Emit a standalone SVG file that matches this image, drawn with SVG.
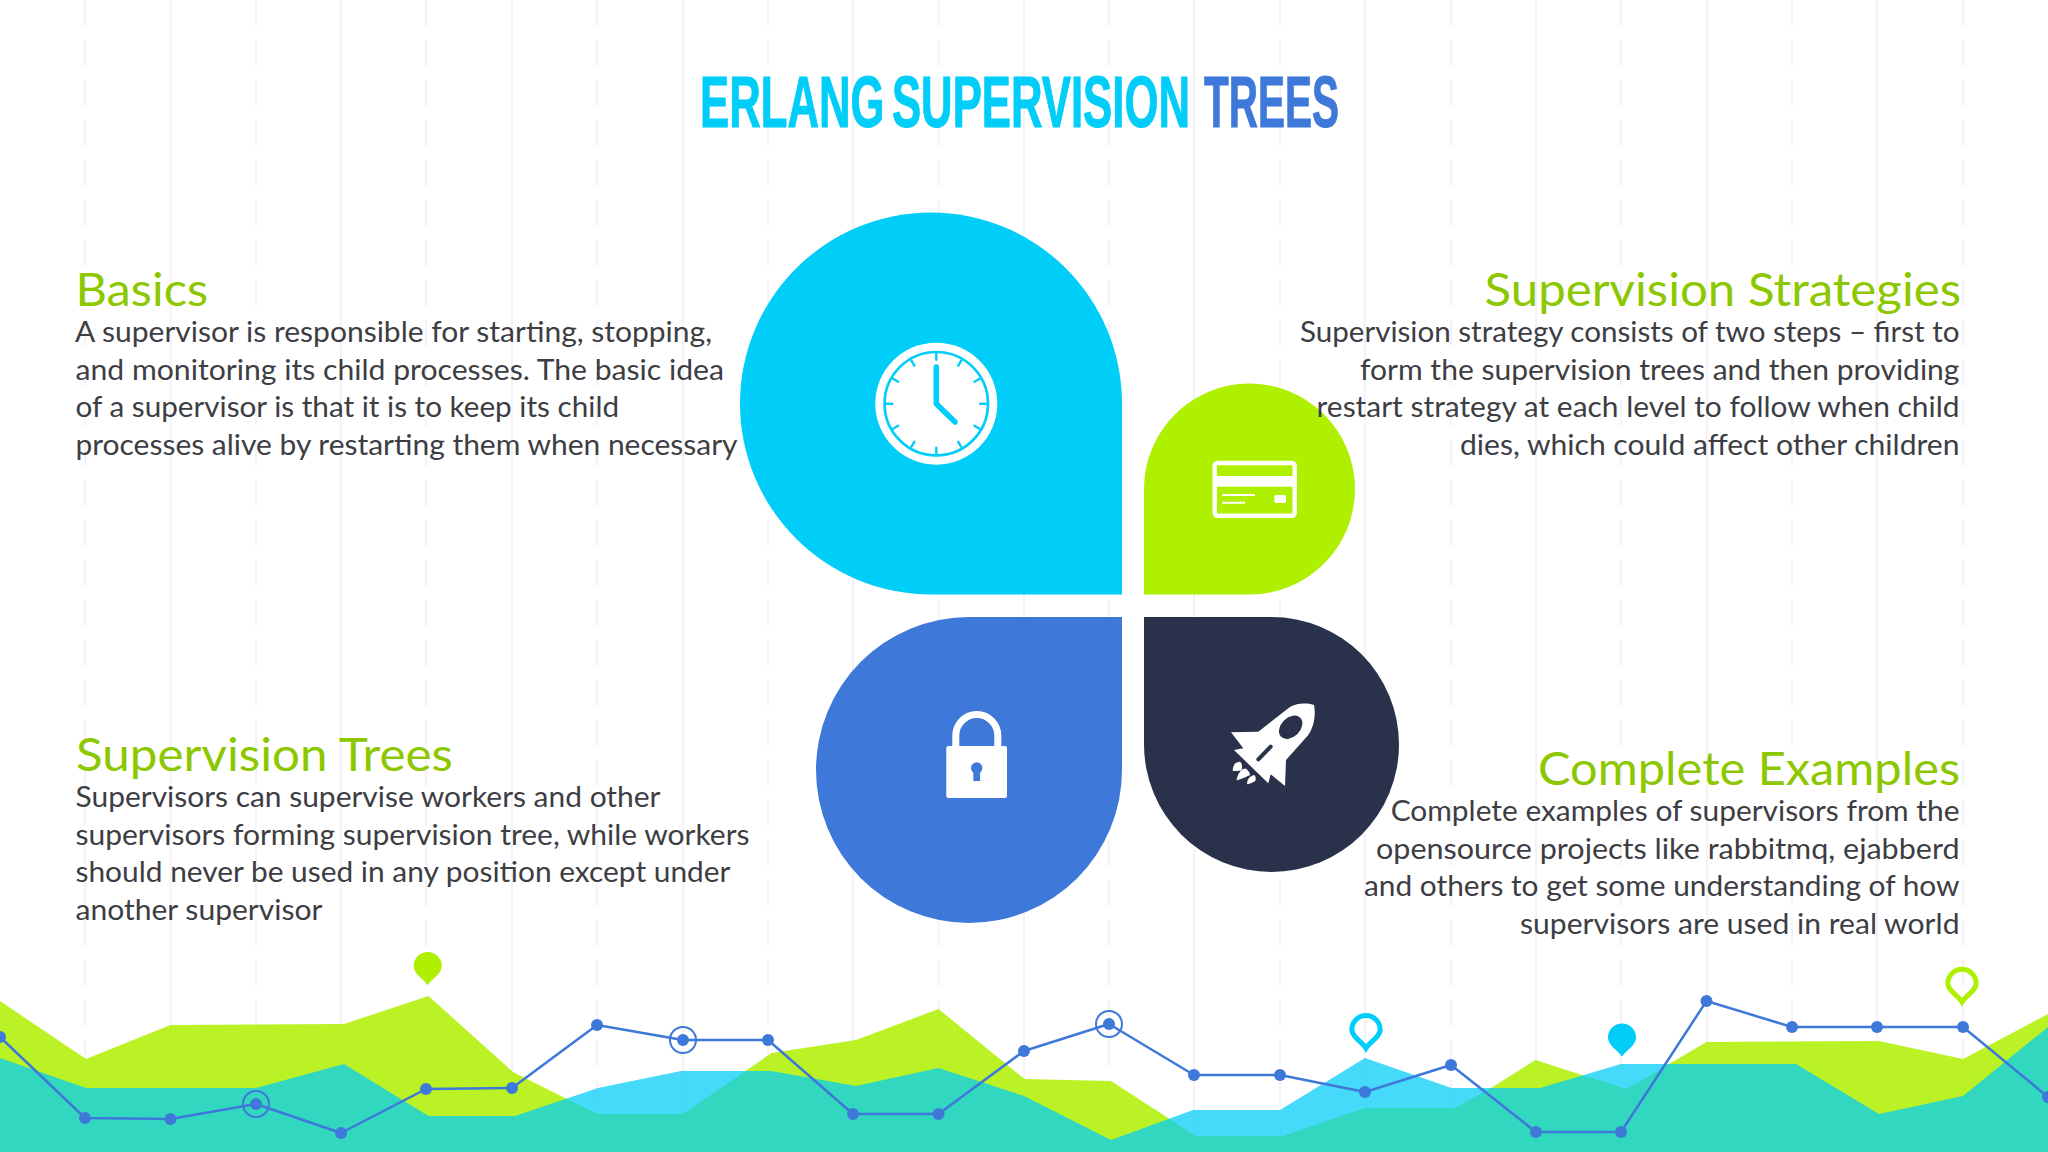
<svg xmlns="http://www.w3.org/2000/svg" xmlns:xlink="http://www.w3.org/1999/xlink" width="2048" height="1152" viewBox="0 0 2048 1152">
<style>
.gs{stroke:#f3f3f7;stroke-width:2;fill:none}
.gd{stroke:#f3f3f7;stroke-width:2;fill:none;stroke-dasharray:26 14}
.h{font-family:"Lato","Noto Sans",sans-serif;font-weight:400;font-size:46px;fill:#8cc700}
.b{font-family:"Lato","Noto Sans",sans-serif;font-weight:400;font-size:28px;fill:#3d3d44}
.t{font-family:"Liberation Sans Narrow","Liberation Sans",sans-serif;font-weight:700;font-size:73px;stroke-width:1}
.dot{fill:#3e78d9}
.halo{fill:none;stroke:#3e78d9;stroke-width:2}
.ic{fill:#fff}
.tk{stroke:#00cdf8;stroke-width:2.4;stroke-linecap:round}
</style>
<defs>
<path id="pin" d="M0 19C-5 12-14 8-14 0A14 14 0 0 1 14 0C14 8 5 12 0 19Z"/>
<path id="pinr" d="M0 18.500C-4 12-14.200 7-14.200 0A14.200 14.200 0 0 1 14.200 0C14.200 7 4 12 0 18.500Z" fill="none" stroke-width="5"/>
<line id="tick" class="tk" x1="0" y1="-50" x2="0" y2="-44"/>
</defs>
<rect width="2048" height="1152" fill="#fff"/>
<g id="grid">
<path class="gd" d="M85 0V1152M256 0V1152M426 0V1152M597 0V1152M768 0V1152M938.500 0V1152M1109 0V1152M1280 0V1152M1451 0V1152M1621 0V1152M1792 0V1152M1963 0V1152"/>
<path class="gs" d="M170.500 0V1152M341 0V1152M512 0V1152M683 0V1152M853 0V1152M1024 0V1152M1194 0V1152M1365 0V1152M1536 0V1152M1707 0V1152M1877 0V1152"/>
</g>
<g id="areas">
<path fill="#aef000" fill-opacity=".85" d="M0 1001L86 1059L170.500 1025L344 1024L428.500 996L513 1072L565 1098L598 1114L683 1114L771.500 1053L856 1040L938.500 1009L1024.500 1079L1111 1081L1196 1136L1283 1136L1365 1108L1455 1108L1491 1088L1535.500 1060L1582 1075L1627 1089L1669 1064L1706.500 1042L1879 1041L1963 1059L2048 1014V1152H0Z"/>
<path fill="#00ccf8" fill-opacity=".73" d="M0 1058L86 1088L256 1088L344 1064L428.500 1116L515 1116L598 1088L681 1071L771.500 1071L856 1086L938.500 1068L1024 1096L1111 1140L1193 1110L1280 1110L1365 1058L1451.500 1088L1540 1088L1621 1064L1796 1064L1879 1114L1963 1096L2048 1027V1152H0Z"/>
</g>
<g id="pins">
<use href="#pin" x="427.700" y="966" fill="#aef000"/>
<use href="#pinr" x="1366" y="1029.700" stroke="#00cdf8"/>
<use href="#pin" x="1622" y="1037.500" fill="#00cdf8"/>
<use href="#pinr" x="1962" y="983.500" stroke="#aef000"/>
</g>
<g id="connectors">
<polyline fill="none" stroke="#3e78d9" stroke-width="2.500" stroke-linejoin="round" points="0,1037 85,1118 170.500,1119 256,1104 341,1133 426,1089 512,1088 597,1025 683,1040 768,1040 853,1114 938.500,1114 1024,1051 1109,1024 1194,1075 1280,1075 1365,1092 1451,1065 1536,1132 1621,1132 1706.500,1001 1792,1027 1877,1027 1963,1027 2048,1097"/>
</g>
<g id="chart-points">
<circle class="dot" cx="0" cy="1037" r="6"/><circle class="dot" cx="85" cy="1118" r="6"/><circle class="dot" cx="170.500" cy="1119" r="6"/><circle class="dot" cx="256" cy="1104" r="6"/><circle class="dot" cx="341" cy="1133" r="6"/><circle class="dot" cx="426" cy="1089" r="6"/><circle class="dot" cx="512" cy="1088" r="6"/><circle class="dot" cx="597" cy="1025" r="6"/><circle class="dot" cx="683" cy="1040" r="6"/><circle class="dot" cx="768" cy="1040" r="6"/><circle class="dot" cx="853" cy="1114" r="6"/><circle class="dot" cx="938.500" cy="1114" r="6"/><circle class="dot" cx="1024" cy="1051" r="6"/><circle class="dot" cx="1109" cy="1024" r="6"/><circle class="dot" cx="1194" cy="1075" r="6"/><circle class="dot" cx="1280" cy="1075" r="6"/><circle class="dot" cx="1365" cy="1092" r="6"/><circle class="dot" cx="1451" cy="1065" r="6"/><circle class="dot" cx="1536" cy="1132" r="6"/><circle class="dot" cx="1621" cy="1132" r="6"/><circle class="dot" cx="1706.500" cy="1001" r="6"/><circle class="dot" cx="1792" cy="1027" r="6"/><circle class="dot" cx="1877" cy="1027" r="6"/><circle class="dot" cx="1963" cy="1027" r="6"/><circle class="dot" cx="2048" cy="1097" r="6"/>
<circle class="halo" cx="256" cy="1104" r="13"/><circle class="halo" cx="683" cy="1040" r="13"/><circle class="halo" cx="1109" cy="1024" r="13"/>
</g>
<g id="node-basics">
<path fill="#00cdf8" d="M1122 594.500H931A191 191 0 1 1 1122 403.500Z"/>
<circle class="ic" cx="936.300" cy="403.700" r="61"/>
<circle cx="936.300" cy="403.700" r="51.700" fill="#fff" stroke="#00cdf8" stroke-width="2.700"/>
<g transform="translate(936.300 403.700)">
<use href="#tick"/><use href="#tick" transform="rotate(30)"/><use href="#tick" transform="rotate(60)"/><use href="#tick" transform="rotate(90)"/><use href="#tick" transform="rotate(120)"/><use href="#tick" transform="rotate(150)"/><use href="#tick" transform="rotate(180)"/><use href="#tick" transform="rotate(210)"/><use href="#tick" transform="rotate(240)"/><use href="#tick" transform="rotate(270)"/><use href="#tick" transform="rotate(300)"/><use href="#tick" transform="rotate(330)"/>
</g>
<path d="M936.300 367V403.700L955 422" fill="none" stroke="#00cdf8" stroke-width="5.500" stroke-linecap="round" stroke-linejoin="round"/>
</g>
<g id="node-strategies">
<path fill="#aef000" d="M1144 594.500V489.500A105.500 105.500 0 1 1 1249.500 594.500Z"/>
<rect x="1214.700" y="463" width="80" height="52.700" rx="3" fill="none" stroke="#fff" stroke-width="4.500"/>
<rect class="ic" x="1213" y="476" width="84" height="10.700"/>
<path d="M1222.300 495H1255M1222.300 502.700H1245" stroke="#fff" stroke-width="2" fill="none"/>
<rect class="ic" x="1274.300" y="495" width="11.700" height="8" rx="2"/>
</g>
<g id="node-trees">
<path fill="#3e78d9" d="M1122 617V770A153 153 0 1 1 969 617Z"/>
<path d="M955.800 746V735.500A21 21 0 0 1 997.800 735.500V746" fill="none" stroke="#fff" stroke-width="7"/>
<rect class="ic" x="946.300" y="746" width="60.700" height="52" rx="2"/>
<circle cx="976.700" cy="768" r="5.700" fill="#3e78d9"/>
<rect x="973.300" y="769" width="6.800" height="12" fill="#3e78d9"/>
</g>
<g id="node-examples">
<path fill="#2a324b" d="M1144 617H1271.500A127.500 127.500 0 1 1 1144 744.500Z"/>
<path class="ic" d="M1314 705C1310 703 1296 702 1288.300 708.300L1258.300 731.700L1231 732.300L1243.300 748.300L1234 750L1268.300 783.300L1270.700 774.300L1285 786L1286 760L1308.300 735C1314 727 1316 715 1314 705Z"/>
<ellipse cx="1290.700" cy="727.300" rx="13.500" ry="9.500" transform="rotate(-45 1290.700 727.300)" fill="#2a324b"/>
<path d="M1258.300 759.300L1270.700 746.700" stroke="#2a324b" stroke-width="4" stroke-linecap="round"/>
<path class="ic" d="M1232.700 770.700C1233 764 1236 762 1240 761.700C1243 764 1242 769 1241.500 770.500C1238 771 1235 771 1232.700 770.700Z"/>
<path class="ic" d="M1236.500 780.500C1238 773 1241 769 1245.500 768.500C1248 770 1250 773 1250 775C1246 777 1241 779 1236.500 780.500Z"/>
<path class="ic" d="M1247 784.300C1247 779 1250 776 1254 775C1256 776 1256 779 1255.300 781C1253 782.500 1250 784 1247 784.300Z"/>
</g>
<g id="title">
<text class="t" x="700" y="126.500" textLength="490" lengthAdjust="spacingAndGlyphs" fill="#00cdf8" stroke="#00cdf8" style="word-spacing:-8px">ERLANG SUPERVISION</text>
<text class="t" x="1204" y="126.500" textLength="135" lengthAdjust="spacingAndGlyphs" fill="#3e78d9" stroke="#3e78d9">TREES</text>
</g>
<g id="text-basics">
<text class="h" x="75.500" y="306" textLength="132.500" lengthAdjust="spacingAndGlyphs">Basics</text>
<text class="b" x="75" y="342.300" textLength="637" lengthAdjust="spacingAndGlyphs">A supervisor is responsible for starting, stopping,</text>
<text class="b" x="75.500" y="379.700" textLength="648.500" lengthAdjust="spacingAndGlyphs">and monitoring its child processes. The basic idea</text>
<text class="b" x="75.500" y="417" textLength="543.500" lengthAdjust="spacingAndGlyphs">of a supervisor is that it is to keep its child</text>
<text class="b" x="75.500" y="454.700" textLength="662" lengthAdjust="spacingAndGlyphs">processes alive by restarting them when necessary</text>
</g>
<g id="text-strategies">
<text class="h" x="1484.500" y="306" textLength="476.500" lengthAdjust="spacingAndGlyphs">Supervision Strategies</text>
<text class="b" x="1300" y="342.300" textLength="659.500" lengthAdjust="spacingAndGlyphs">Supervision strategy consists of two steps – first to</text>
<text class="b" x="1360" y="379.700" textLength="599.500" lengthAdjust="spacingAndGlyphs">form the supervision trees and then providing</text>
<text class="b" x="1316.600" y="417" textLength="642.900" lengthAdjust="spacingAndGlyphs">restart strategy at each level to follow when child</text>
<text class="b" x="1460" y="454.700" textLength="499.500" lengthAdjust="spacingAndGlyphs">dies, which could affect other children</text>
</g>
<g id="text-trees">
<text class="h" x="76" y="771" textLength="377" lengthAdjust="spacingAndGlyphs">Supervision Trees</text>
<text class="b" x="75.500" y="807.300" textLength="585" lengthAdjust="spacingAndGlyphs">Supervisors can supervise workers and other</text>
<text class="b" x="75.500" y="844.700" textLength="674" lengthAdjust="spacingAndGlyphs">supervisors forming supervision tree, while workers</text>
<text class="b" x="75.500" y="881.700" textLength="655" lengthAdjust="spacingAndGlyphs">should never be used in any position except under</text>
<text class="b" x="75.500" y="919.700" textLength="247" lengthAdjust="spacingAndGlyphs">another supervisor</text>
</g>
<g id="text-examples">
<text class="h" x="1538" y="785" textLength="422" lengthAdjust="spacingAndGlyphs">Complete Examples</text>
<text class="b" x="1390.700" y="821.300" textLength="568.800" lengthAdjust="spacingAndGlyphs">Complete examples of supervisors from the</text>
<text class="b" x="1376" y="858.700" textLength="583.500" lengthAdjust="spacingAndGlyphs">opensource projects like rabbitmq, ejabberd</text>
<text class="b" x="1364" y="896.300" textLength="595.500" lengthAdjust="spacingAndGlyphs">and others to get some understanding of how</text>
<text class="b" x="1520" y="933.700" textLength="439.500" lengthAdjust="spacingAndGlyphs">supervisors are used in real world</text>
</g>
</svg>
